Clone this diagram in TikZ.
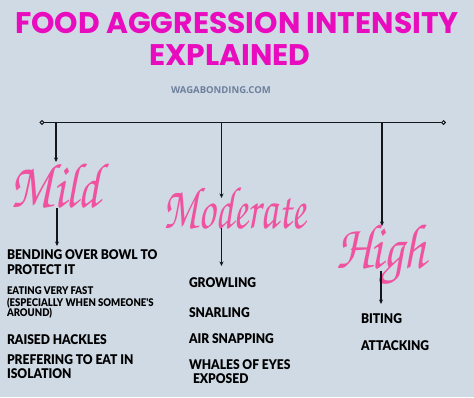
\documentclass[tikz,border=0pt]{standalone}
\usepackage{fontspec}
\usetikzlibrary{arrows.meta}
\newfontfamily\titlef{Poppins}[UprightFont=* Bold]
\newfontfamily\bodyf{Lato}[UprightFont=* Black, FakeStretch=0.9]
\newfontfamily\webf{Open Sans}[UprightFont=* Bold]
\newfontfamily\handf{texgyrechorus-mediumitalic.otf}[FakeStretch=0.8]
\newfontfamily\handnarrowf{texgyrechorus-mediumitalic.otf}[FakeStretch=0.7]
\definecolor{bgc}{HTML}{CFDAE5}
\definecolor{titlec}{HTML}{E80CBE}
\definecolor{webc}{HTML}{6E7F9C}
\definecolor{handc}{HTML}{F0529F}
\definecolor{linec}{HTML}{15161C}
\tikzset{
  titletext/.style={inner sep=0pt, outer sep=0pt, text=titlec, font=\titlef\fontsize{29.8}{32}\selectfont, anchor=base},
  item/.style={inner sep=0pt, outer sep=0pt, text=black, font=\bodyf\fontsize{13.4}{15}\selectfont, anchor=base west},
  smallitem/.style={inner sep=0pt, outer sep=0pt, text=black, font=\bodyf\fontsize{10.6}{12}\selectfont, anchor=base west},
  hand/.style={inner sep=0pt, outer sep=0pt, text=handc, font=\handf\fontsize{64}{68}\selectfont, anchor=base west},
  conn/.style={draw=linec, line width=1.1pt},
  arr/.style={conn, -{Stealth[length=4.5pt,width=4pt]}},
  endpt/.style={circle, draw=linec, fill=white, line width=1pt, inner sep=0pt, minimum size=3.6pt}
}
\begin{document}
\begin{tikzpicture}[x=1pt,y=-1pt]
\useasboundingbox (0,0) rectangle (474,397);
\fill[bgc] (0,0) rectangle (474,397);
% title
\node[titletext] (t1) at (237,33) {FOOD AGGRESSION INTENSITY};
\node[titletext] (t2) at (230,65) {EXPLAINED};
\node[inner sep=0pt, text=webc, font=\webf\fontsize{9.5}{11}\selectfont, anchor=base] (web) at (221,93.5) {WAGABONDING.COM};
% main line
\node[endpt] (L) at (42,122.5) {};
\node[endpt] (R) at (443.5,122.5) {};
\draw[conn] (L) -- (R);
\coordinate (a1) at (56,122.5);
\coordinate (a2) at (221.5,122.5);
\coordinate (a3) at (382,122.5);
\coordinate (a1e) at (56,162);
\coordinate (a2e) at (221.5,198);
\coordinate (a3e) at (382,226);
\draw[arr] (a1) -- (a1e);
\draw[arr] (a2) -- (a2e);
\draw[arr] (a3) -- (a3e);
% script headings
\node[hand] (mild) at (10,207) {Mild};
\node[hand, font=\handnarrowf\fontsize{60}{64}\selectfont] (moderate) at (163,228) {Moderate};
\node[hand] (high) at (336,268) {High};
% second arrows
\coordinate (b1) at (57,208);
\coordinate (b1e) at (57,246);
\coordinate (b2) at (221.5,228);
\coordinate (b2e) at (221.5,266);
\coordinate (b3) at (381,271);
\coordinate (b3e) at (381,304);
\draw[arr] (b1) -- (b1e);
\draw[arr] (b2) -- (b2e);
\draw[arr] (b3) -- (b3e);
% mild items
\node[item] (m1) at (7,259) {BENDING OVER BOWL TO};
\node[item] (m2) at (7,274) {PROTECT IT};
\node[smallitem] (m3) at (7,294.5) {EATING VERY FAST};
\node[smallitem] (m4) at (7,306) {(ESPECIALLY WHEN SOMEONE'S};
\node[smallitem] (m5) at (7,316.5) {AROUND)};
\node[item] (m6) at (7,344) {RAISED HACKLES};
\node[item] (m7) at (7,364) {PREFERING TO EAT IN};
\node[item] (m8) at (7,378) {ISOLATION};
% moderate items
\node[item] (d1) at (189,287) {GROWLING};
\node[item] (d2) at (189,317) {SNARLING};
\node[item] (d3) at (189,343) {AIR SNAPPING};
\node[item] (d4) at (189,369) {WHALES OF EYES};
\node[item] (d5) at (193,383) {EXPOSED};
% high items
\node[item] (h1) at (361,323) {BITING};
\node[item] (h2) at (361,350) {ATTACKING};
\end{tikzpicture}
\end{document}
